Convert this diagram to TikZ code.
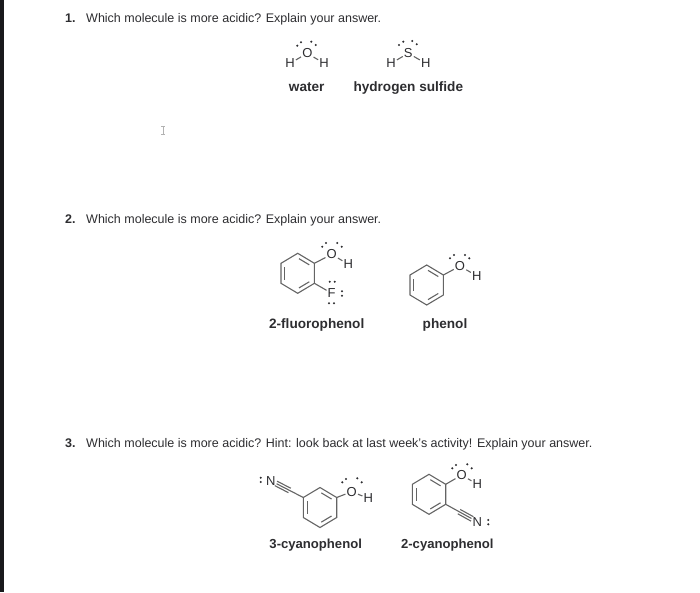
\documentclass[tikz,border=0pt]{standalone}
\usepackage{fontspec}
\setmainfont{Liberation Sans}
\usetikzlibrary{calc}
\definecolor{inkdark}{RGB}{45,45,48}
\definecolor{bondgrey}{RGB}{100,100,100}
\definecolor{barblack}{RGB}{25,25,28}

% ring with centre #2, corners named #1a to #1g
\newcommand{\benzenering}[2]{
    \coordinate (#1c) at #2;
    \coordinate (#1a) at ($(#1c)+(0,-20)$);
    \coordinate (#1b) at ($(#1c)+(16.7,-10)$);
    \coordinate (#1d) at ($(#1c)+(16.7,10)$);
    \coordinate (#1e) at ($(#1c)+(0,20)$);
    \coordinate (#1f) at ($(#1c)+(-16.7,10)$);
    \coordinate (#1g) at ($(#1c)+(-16.7,-10)$);
    \draw[bond] (#1a) -- (#1b) -- (#1d) -- (#1e) -- (#1f) -- (#1g) -- cycle;
    \draw[bond, shorten <=1.5pt, shorten >=1.5pt] ($(#1c)!.77!(#1a)$) -- ($(#1c)!.77!(#1b)$);
    \draw[bond, shorten <=1.5pt, shorten >=1.5pt] ($(#1c)!.77!(#1d)$) -- ($(#1c)!.77!(#1e)$);
    \draw[bond, shorten <=1.5pt, shorten >=1.5pt] ($(#1c)!.77!(#1f)$) -- ($(#1c)!.77!(#1g)$);
}
% the two outer lines of a triple bond from #1 to node #2
\newcommand{\tripleouter}[2]{
    \coordinate (ts) at ($(#1)!.42!(#2)$);
    \coordinate (te) at ($(#1)!.84!(#2)$);
    \draw[bond] ($(ts)!2.5pt!90:(te)$) -- ($(te)!2.5pt!-90:(ts)$);
    \draw[bond] ($(ts)!2.5pt!-90:(te)$) -- ($(te)!2.5pt!90:(ts)$);
}

\begin{document}
\begin{tikzpicture}[
        x=1pt, y=-1pt,
        question/.style={anchor=base west, inner sep=0, text=inkdark, font=\fontsize{12.5}{14}\selectfont},
        qnumber/.style={question, font=\fontsize{12.5}{14}\selectfont\bfseries},
        molname/.style={anchor=base, inner sep=0, text=inkdark, font=\fontsize{13.6}{15}\selectfont\bfseries},
        cyanoname/.style={molname, font=\fontsize{13.1}{15}\selectfont\bfseries},
        atom/.style={inner sep=1pt, text=inkdark, font=\fontsize{13}{14}\selectfont},
        bond/.style={draw=bondgrey, line width=1.1pt},
        lonedot/.style={circle, fill=inkdark, inner sep=0, minimum size=2.3pt}
    ]
    \useasboundingbox (0,0) rectangle (700,592);
    \fill[barblack] (0,0) rectangle (3.5,592);

    % questions
    \node[qnumber] (num1) at (65,22.5) {1.};
    \node[question] (q1) at (86,22.5) {Which molecule is more acidic? Explain your answer.};
    \node[qnumber] (num2) at (65,223) {2.};
    \node[question] (q2) at (86,223) {Which molecule is more acidic? Explain your answer.};
    \node[qnumber] (num3) at (65,447) {3.};
    \node[question] (q3) at (86,447) {Which molecule is more acidic? Hint: look back at last week's activity! Explain your answer.};

    % text cursor
    \draw[gray!60, line width=0.6pt] (161,126.5) -- (165,126.5) (163,126.5) -- (163,134) (161,134) -- (165,134);

    % water
    \node[atom] (wo) at (307.3,53.3) {O};
    \node[atom] (wh1) at (290,63.3) {H};
    \node[atom] (wh2) at (324,63.3) {H};
    \draw[bond] (wo) -- (wh1);
    \draw[bond] (wo) -- (wh2);
    \foreach \x/\y in {297.3/45.7, 301/42.3, 311.3/41.7, 315.7/45}
        \node[lonedot] at (\x,\y) {};
    \node[molname] (water) at (306.7,91) {water};

    % hydrogen sulfide
    \node[atom] (ss) at (408.3,53.3) {S};
    \node[atom] (sh1) at (391,63.3) {H};
    \node[atom] (sh2) at (425.7,63.3) {H};
    \draw[bond] (ss) -- (sh1);
    \draw[bond] (ss) -- (sh2);
    \foreach \x/\y in {399/45, 403.3/41.7, 412.3/41, 416.7/44.3}
        \node[lonedot] at (\x,\y) {};
    \node[molname] (sulfide) at (408.3,91) {hydrogen sulfide};

    % 2-fluorophenol
    \benzenering{fp}{(297.7,273.3)}
    \node[atom] (fpo) at (331.7,254.3) {O};
    \node[atom] (fph) at (348.3,264.3) {H};
    \node[atom] (fpf) at (331.7,293.3) {F};
    \draw[bond] (fpb) -- (fpo);
    \draw[bond] (fpo) -- (fph);
    \draw[bond] (fpd) -- (fpf);
    \foreach \x/\y in {322.3/246.7, 326/243, 337.3/243, 341.7/246.7, 329.7/281.7, 334.7/281.7, 342/291.3, 342/295.7, 329/303.3, 334/303.3}
        \node[lonedot] at (\x,\y) {};
    \node[molname] (fluoro) at (316.7,328) {2-fluorophenol};

    % phenol
    \benzenering{ph}{(426.7,285)}
    \node[atom] (pho) at (460,266) {O};
    \node[atom] (phh) at (476.7,276) {H};
    \draw[bond] (phb) -- (pho);
    \draw[bond] (pho) -- (phh);
    \foreach \x/\y in {450/258.3, 454/255, 465/255, 469.3/258.3}
        \node[lonedot] at (\x,\y) {};
    \node[molname] (phenol) at (445,328) {phenol};

    % 3-cyanophenol
    \benzenering{tc}{(320,507.5)}
    \node[atom] (tco) at (351.7,491.7) {O};
    \node[atom] (tch) at (368.3,498.3) {H};
    \node[atom] (tcn) at (270.7,480.7) {N};
    \draw[bond] (tcb) -- (tco);
    \draw[bond] (tco) -- (tch);
    \draw[bond] (tcg) -- (tcn);
    \tripleouter{tcg}{tcn}
    \foreach \x/\y in {342.3/482.3, 346/479, 357.3/478.3, 361.7/482.3, 260.7/477.7, 260.7/482}
        \node[lonedot] at (\x,\y) {};
    \node[cyanoname] (cyano3) at (315.7,548.5) {3-cyanophenol};

    % 2-cyanophenol
    \benzenering{oc}{(429,494.3)}
    \node[atom] (oco) at (461.7,475) {O};
    \node[atom] (och) at (477.3,484.3) {H};
    \node[atom] (ocn) at (477.3,521.7) {N};
    \draw[bond] (ocb) -- (oco);
    \draw[bond] (oco) -- (och);
    \draw[bond] (ocd) -- (ocn);
    \tripleouter{ocd}{ocn}
    \foreach \x/\y in {452.3/468.3, 456/465, 467.3/464.3, 471.7/468.3, 488.3/520, 488.3/524.3}
        \node[lonedot] at (\x,\y) {};
    \node[cyanoname] (cyano2) at (447.3,548.5) {2-cyanophenol};
\end{tikzpicture}
\end{document}
